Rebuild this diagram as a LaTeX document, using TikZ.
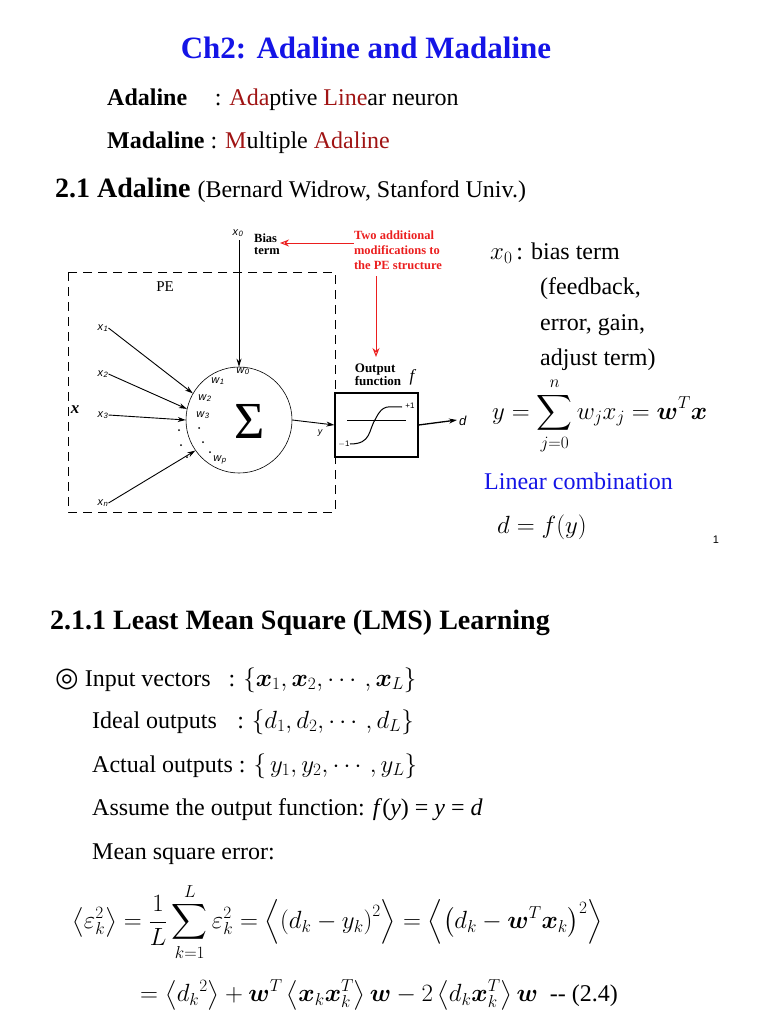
\documentclass[tikz,border=0pt]{standalone}
\usepackage{amsmath}
\usepackage{fontspec}
\setmainfont{Liberation Serif}
\newfontfamily\dejavu{DejaVu Sans}
\newfontfamily\sans{Liberation Sans}
\usetikzlibrary{arrows.meta}
\definecolor{ttl}{RGB}{20,20,230}
\definecolor{dred}{RGB}{160,20,20}
\definecolor{rred}{RGB}{235,30,30}
\newcommand{\lv}[2]{\textit{#1}\textsubscript{\textit{#2}}}
\tikzset{
  body/.style={anchor=west,inner sep=0,font=\fontsize{24}{28}\selectfont},
  head/.style={anchor=west,inner sep=0,font=\fontsize{28}{32}\selectfont\bfseries},
  lbl/.style={inner sep=0,font=\sans\fontsize{11}{12}\selectfont},
  conn/.style={-{Stealth[length=8pt,width=5pt]},line width=0.9pt},
  redc/.style={-{Stealth[length=9pt,width=7pt,open]},rred,line width=1pt},
}
\begin{document}
\begin{tikzpicture}[x=1pt,y=-1pt]
\useasboundingbox (0,0) rectangle (768,1024);
% title
\node[inner sep=0,font=\fontsize{31}{34}\selectfont\bfseries,text=ttl] (title) at (366,48) {Ch2: Adaline and Madaline};
\node[body] (l1) at (107,100) {\textbf{Adaline}\hspace{0.9em} : \textcolor{dred}{Ada}ptive \textcolor{dred}{Line}ar neuron};
\node[body] (l2) at (107,143) {\textbf{Madaline} : \textcolor{dred}{M}ultiple \textcolor{dred}{Adaline}};
\node[head] (h1) at (55,190) {2.1 Adaline \mdseries\fontsize{24}{28}\selectfont(Bernard Widrow, Stanford Univ.)};
% diagram
\draw[dashed,dash pattern=on 9pt off 6pt,line width=0.7pt] (68,272) rectangle (335,512);
\node[circle,draw,line width=0.6pt,minimum size=106pt,inner sep=0] (sum) at (239,420) {};
\node[inner sep=0,font=\fontsize{52}{52}\selectfont] (sig) at (250,421) {Σ};
\node[font=\fontsize{15}{16}\selectfont,inner sep=0] (pe) at (165,287) {PE};
\node[inner sep=0,font=\fontsize{17}{17}\selectfont\bfseries\itshape] (xx) at (75,410) {x};
\node[lbl] (x0) at (238,233) {\lv{x}{0}};
\node[inner sep=0,align=left,font=\fontsize{12.5}{12.5}\selectfont\bfseries] (bias) at (267,244) {Bias\\term};
\node[lbl] (x1) at (103,328) {\lv{x}{1}};
\node[lbl] (x2) at (103,374) {\lv{x}{2}};
\node[lbl] (x3) at (103,415) {\lv{x}{3}};
\node[lbl] (xn) at (103,503) {\lv{x}{n}};
\node[lbl] (w0) at (243,371) {\lv{w}{0}};
\node[lbl] (w1) at (218,381) {\lv{w}{1}};
\node[lbl] (w2) at (205,398) {\lv{w}{2}};
\node[lbl] (w3) at (203,415) {\lv{w}{3}};
\node[lbl] (wp) at (220,460) {\lv{w}{p}};
\foreach \p in {(199,428),(203,442),(210,452),(179,430),(181,445),(187,457)} \fill \p circle (1pt);
\coordinate (x0s) at (239,240);
\draw[conn] (x0s) -- (sum.north);
\draw[conn] (x1.east) -- (sum.150);
\draw[conn] (x2.east) -- (sum.168);
\draw[conn] (x3.east) -- (sum.west);
\draw[conn] (xn.east) -- (sum.215);
% output box
\node[draw,line width=1.3pt,minimum width=83pt,minimum height=64pt,inner sep=0] (ob) at (376.5,425) {};
\draw[line width=1pt] (347,420) -- (406,420);
\draw[line width=1pt] (350,444) .. controls (372,444) and (368,430) .. (376,418) .. controls (383,404) and (388,407) .. (402,407);
\node[lbl,font=\sans\fontsize{8}{8}\selectfont] (p1) at (410,406) {+1};
\node[lbl,font=\sans\fontsize{8}{8}\selectfont] (m1) at (344,444) {$-$1};
\node[lbl,font=\sans\itshape\fontsize{9}{9}\selectfont] (yl) at (320,433) {y};
\draw[conn] (sum.east) -- (ob.west);
\coordinate (dend) at (457,420);
\draw[conn,line width=1.3pt] (ob.east) -- (dend);
\node[lbl,font=\sans\fontsize{13}{13}\selectfont\itshape,anchor=west] (dl) at (459,421) {d};
\node[inner sep=0,align=left,font=\fontsize{13}{13.5}\selectfont\bfseries] (of) at (378,375) {Output\\function};
\node[inner sep=0,font=\fontsize{17}{17}\selectfont\itshape] (fl) at (412,377) {f};
\node[inner sep=0,align=left,text=rred,font=\fontsize{12.5}{15}\selectfont\bfseries] (two) at (398,250) {Two additional\\modifications to\\the PE structure};
\draw[redc] (two.west |- 0,243) -- (bias.east |- 0,243);
\draw[redc] (376,276) -- (376,357);
% right column
\node[body] (r1) at (490,253) {$x_0$\,: bias term};
\node[body] (r2) at (540,289) {(feedback,};
\node[body] (r3) at (540,325) {error, gain,};
\node[body] (r4) at (540,360) {adjust term)};
\node[body] (r5) at (492,416) {$\displaystyle y=\sum_{j=0}^{n} w_j x_j=\boldsymbol{w}^T\boldsymbol{x}$};
\node[body] (r6) at (484,481) {\textcolor{ttl}{Linear combination}};
\node[body] (r7) at (497,527) {$d=f(y)$};
\node[inner sep=0,font=\sans\fontsize{11}{11}\selectfont] (pg) at (716,540) {1};
% LMS
\node[head] (h2) at (50,623) {2.1.1 Least Mean Square (LMS) Learning};
\node[body] (m1a) at (55,680) {{\dejavu\fontsize{27}{28}\selectfont ◎} Input vectors\hspace{0.5em} : $\{\boldsymbol{x}_1,\boldsymbol{x}_2,\cdots,\boldsymbol{x}_L\}$};
\node[body] (m2) at (92,722) {Ideal outputs\hspace{0.6em} : $\{d_1,d_2,\cdots,d_L\}$};
\node[body] (m3) at (92,766) {Actual outputs : $\{\,y_1,y_2,\cdots,y_L\}$};
\node[body] (m4) at (92,810) {Assume the output function: \textit{f}(\textit{y}) = \textit{y} = \textit{d}};
\node[body] (m5) at (92,854) {Mean square error:};
\node[body] (e1) at (72,922) {$\displaystyle \left\langle \varepsilon_k^2\right\rangle=\frac{1}{L}\sum_{k=1}^{L}\varepsilon_k^2=\left\langle\left(d_k-y_k\right)^2\right\rangle=\left\langle\left(d_k-\boldsymbol{w}^T\boldsymbol{x}_k\right)^2\right\rangle$};
\node[body] (e2) at (140,995) {$\displaystyle =\left\langle {d_k}^2\right\rangle+\boldsymbol{w}^T\left\langle\boldsymbol{x}_k\boldsymbol{x}_k^T\right\rangle\boldsymbol{w}-2\left\langle d_k\boldsymbol{x}_k^T\right\rangle\boldsymbol{w}$ \ -{}- (2.4)};
\end{tikzpicture}
\end{document}
